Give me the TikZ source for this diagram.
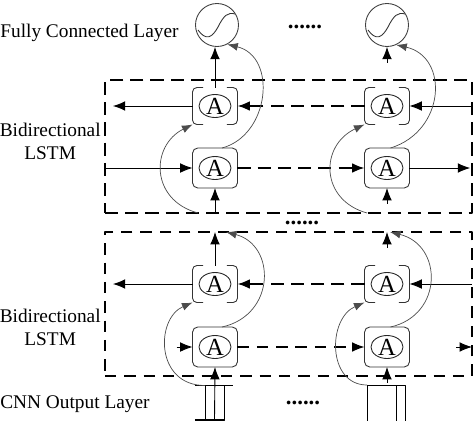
\documentclass[tikz,border=0pt]{standalone}
\usepackage{fontspec}
\setmainfont{Liberation Serif}
\usetikzlibrary{arrows.meta,shapes.geometric}

\tikzset{
  lstmcell/.style={rectangle,minimum width=0.9cm,minimum height=0.74cm,inner sep=0pt,outer sep=0pt},
  fwcell/.style={lstmcell,minimum height=0.8cm,draw=black!80,line width=0.5pt,rounded corners=3pt},
  aunit/.style={ellipse,draw=black!85,line width=0.5pt,minimum width=0.64cm,minimum height=0.46cm,inner sep=0pt,font=\fontsize{14}{14}\selectfont},
  fcnode/.style={circle,draw=black!75,line width=0.5pt,minimum size=0.86cm,inner sep=0pt},
  layerbox/.style={rectangle,inner sep=0pt,outer sep=0pt,minimum width=7.34cm},
  thickdash/.style={line width=1.1pt,dash pattern=on 7.5pt off 4pt},
  thindash/.style={line width=0.8pt,dash pattern=on 6.5pt off 4.5pt},
  flow/.style={->,line width=0.5pt},
  skiparrow/.style={->,thickdash},
  hop/.style={-{Latex[length=6pt,width=4.5pt]},line width=0.4pt,draw=black!70},
  bracket/.style={line width=0.5pt,draw=black!80,rounded corners=2.5pt},
  caption/.style={font=\fontsize{11}{13}\selectfont},
  dots/.style={font=\fontsize{13}{13}\selectfont\bfseries},
}

\begin{document}
\begin{tikzpicture}[x=0.02cm,y=-0.02cm,>={Latex[length=7pt,width=5.5pt]},line join=bevel]
\useasboundingbox (0,0) rectangle (474,420);
%%
  \node (txt_fc) at (0,37) [caption,anchor=base west,inner sep=0pt] {Fully Connected Layer};
  \node (txt_up) at (101,141) [caption,anchor=east,align=center,inner sep=0pt] {Bidirectional\\LSTM};
  \node (txt_low) at (101,327) [caption,anchor=east,align=center,inner sep=0pt] {Bidirectional\\LSTM};
  \node (txt_cnn) at (0,408) [caption,anchor=base west,inner sep=0pt] {CNN Output Layer};

  \node (fc_1) at (217,25) [fcnode] {};
  \node (fc_2) at (387,25) [fcnode] {};
  \foreach \n in {fc_1,fc_2}
    \draw [line width=0.5pt,black!80,shift={(\n)}] (-19,5) .. controls (-11,16) and (-5,13) .. (1,2) .. controls (7,-10) and (11,-13) .. (18,-11);
  \node (dots_fc) at (305,27) [dots] {......};

  % upper layer
  \node (lstm_top) at (288.5,146.5) [layerbox,minimum height=2.66cm,draw,thickdash] {};
  \node (bw_1) at (215,106) [lstmcell] {};
  \node (bw_2) at (387,106) [lstmcell] {};
  \node (fw_1) at (215,168) [fwcell] {};
  \node (fw_2) at (387,168) [fwcell] {};

  % lower layer
  \node (lstm_bot) at (288.5,304) [layerbox,minimum height=2.88cm,draw,thindash] {};
  \node (bw_3) at (215,284) [lstmcell] {};
  \node (bw_4) at (387,284) [lstmcell] {};
  \node (fw_3) at (215,347) [fwcell] {};
  \node (fw_4) at (387,347) [fwcell] {};

  \node (dots_mid) at (302,223) [dots] {......};
  \node (dots_cnn) at (303,403) [dots] {......};

  \foreach \c in {bw_1,bw_2,fw_1,fw_2,bw_3,bw_4,fw_3,fw_4}
    \node (\c a) at (\c) [aunit] {A};
  \foreach \c in {bw_1,bw_2,bw_3,bw_4} {
    \draw [bracket] ([xshift=6pt]\c.north west) -| (\c.south west) -- ++(6pt,0);
    \draw [bracket] ([xshift=-6pt]\c.north east) -| (\c.south east) -- ++(-6pt,0);
  }

  % cnn feature maps
  \node (cnn_1) at (214.5,403) [rectangle,draw,line width=0.5pt,minimum width=0.38cm,minimum height=0.7cm,inner sep=0pt,outer sep=0pt] {};
  \node (cnn_2) at (386,403) [rectangle,draw,line width=0.5pt,minimum width=0.76cm,minimum height=0.72cm,inner sep=0pt,outer sep=0pt] {};
  \draw [line width=0.5pt] ([xshift=-5.7pt]cnn_1.north west) -- ([xshift=5pt]cnn_1.north east);
  \draw [line width=1.6pt] ([xshift=-5.7pt]cnn_1.south west) -- (cnn_1.south east);
  \draw [line width=0.5pt] ([xshift=-5pt]cnn_2.north east) -- ([xshift=-5pt]cnn_2.south east);

  % upper connectors
  \coordinate (top_1) at (bw_1.north |- fc_1.south);
  \coordinate (top_2) at (bw_2.north |- fc_2.south);
  \coordinate (in_r1) at (lstm_top.east |- bw_2);
  \coordinate (out_l1) at (lstm_top.west |- bw_1);
  \coordinate (in_l1) at (lstm_top.west |- fw_1);
  \coordinate (out_r1) at (lstm_top.east |- fw_2);
  \coordinate (up_1) at (lstm_top.south -| fw_1);
  \coordinate (up_2) at (lstm_top.south -| fw_2);
  \coordinate (from_1) at (198,213);
  \coordinate (from_2) at (367,213);

  \draw [flow] (bw_1.north) -- (top_1);
  \draw [flow] ([yshift=-9pt]top_2) -- (top_2);
  \draw [flow] (in_r1) -- (bw_2.east);
  \draw [skiparrow] (bw_2.west) -- (bw_1.east);
  \draw [flow] (bw_1.west) -- ([xshift=4.5pt]out_l1);
  \draw [flow] (in_l1) -- (fw_1.west);
  \draw [skiparrow] (fw_1.east) -- (fw_2.west);
  \draw [flow] (fw_2.east) -- ([xshift=-1pt]out_r1);
  \draw [flow] (up_1) -- (fw_1.south);
  \draw [flow] ([yshift=-9pt]fw_2.south) -- (fw_2.south);

  \draw [hop] ([xshift=4pt]fw_1.north) .. controls +(48,-13) and +(50,12) .. (fc_1.-62);
  \draw [hop] ([xshift=2pt]fw_2.north) .. controls +(55,-17) and +(53,12) .. (fc_2.-65);
  \draw [hop] (from_1) .. controls +(-48,-13) and +(-42,21) .. (bw_1.south west);
  \draw [hop] (from_2) .. controls +(-47,-13) and +(-45,21) .. (bw_2.south west);

  % lower connectors
  \coordinate (top_3) at (lstm_bot.north -| bw_3);
  \coordinate (top_4) at (lstm_bot.north -| bw_4);
  \coordinate (in_r2) at (lstm_bot.east |- bw_4);
  \coordinate (out_l2) at (lstm_bot.west |- bw_3);
  \coordinate (out_r2) at (lstm_bot.east |- fw_4);
  \coordinate (hit_3) at (226,232);
  \coordinate (hit_4) at (390,232);

  \draw [flow] (bw_3.north) -- (top_3);
  \draw [flow] ([yshift=-9pt]top_4) -- (top_4);
  \draw [flow] (in_r2) -- (bw_4.east);
  \draw [skiparrow] (bw_4.west) -- (bw_3.east);
  \draw [flow] (bw_3.west) -- ([xshift=4.5pt]out_l2);
  \draw [flow] ([xshift=-9pt]fw_3.west) -- (fw_3.west);
  \draw [->,thindash,line width=0.7pt] (fw_3.east) -- (fw_4.west);
  \draw [flow] ([xshift=-9pt]out_r2) -- (out_r2);
  \draw [flow] (cnn_1.south) -- (fw_3.south);
  \draw [flow] ([yshift=-9pt]fw_4.south) -- (fw_4.south);

  \draw [hop] ([xshift=4pt]fw_3.north) .. controls +(54,-12) and +(50,13) .. (hit_3);
  \draw [hop] ([xshift=2pt]fw_4.north) .. controls +(53,-12) and +(53,13) .. (hit_4);
  \draw [hop] (cnn_1.north west) .. controls +(-50,0) and +(-37,16) .. (bw_3.south west);
  \draw [hop] (cnn_2.north west) .. controls +(-40,0) and +(-37,16) .. (bw_4.south west);
%
\end{tikzpicture}
\end{document}
